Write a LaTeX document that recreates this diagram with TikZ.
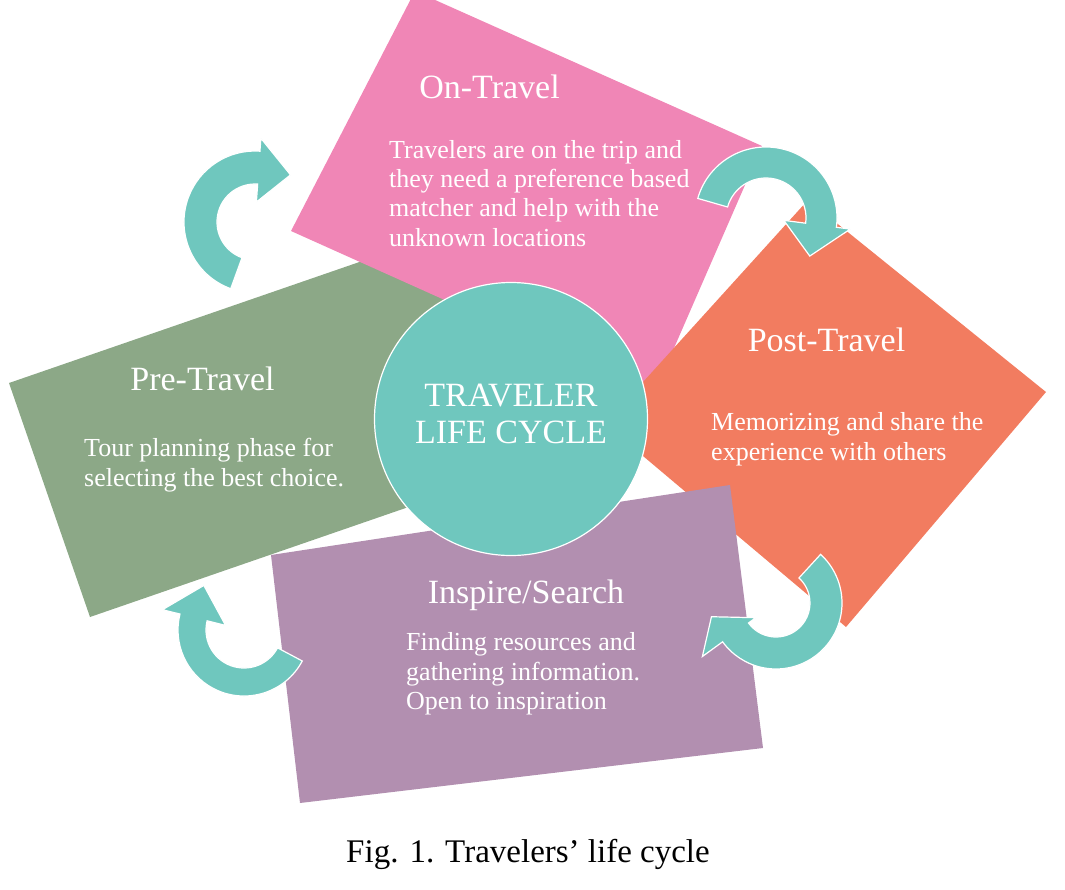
\documentclass[tikz,border=0pt]{standalone}
\usepackage{xcolor}
\usepackage{fontspec}
\setmainfont{Liberation Serif}
\usepackage{tikz}
\usetikzlibrary{positioning, calc}
\definecolor{ontravel}{HTML}{F086B6}
\definecolor{posttravel}{HTML}{F27C60}
\definecolor{pretravel}{HTML}{8CA887}
\definecolor{inspire}{HTML}{B28FB0}
\definecolor{hubteal}{HTML}{6FC7BE}

% centre, tail angle, head angle, tip angle, tip radius, inner r, outer r, outer barb, inner barb
\newcommand{\cyclearrow}[9]{%
  \filldraw[fill=hubteal, draw=white, line width=1.2pt]
    ($(#1)+(#2:#7)$) arc[start angle=#2, end angle=#3, radius=#7]
    -- ($(#1)+(#3:#8)$) -- ($(#1)+(#4:#5)$) -- ($(#1)+(#3:#9)$)
    -- ($(#1)+(#3:#6)$) arc[start angle=#3, end angle=#2, radius=#6] -- cycle;}

\begin{document}
\begin{tikzpicture}[x=1pt, y=-1pt,
    phasetitle/.style={text=white, font=\fontsize{34}{40}\selectfont, inner sep=0pt, anchor=base},
    phasetext/.style={text=white, font=\fontsize{26}{29.3}\selectfont, align=left, inner sep=0pt, anchor=base west}]
    \useasboundingbox (0,0) rectangle (1065,889);
    \clip (0,0) rectangle (1065,889);
    \fill[pretravel] (9,383) -- (455,229) -- (536,463) -- (90,617) -- cycle;
    \fill[ontravel] (415,-9) -- (762,146) -- (654,394) -- (291,231) -- cycle;
    \fill[posttravel] (808,200) -- (1046,392) -- (846,627) -- (605,424) -- cycle;
    \fill[inspire] (271,555) -- (730,485) -- (763,748) -- (300,803) -- cycle;
    \node (hub) [circle, fill=hubteal, draw=white, line width=1.2pt, minimum size=273pt, inner sep=0pt] at (511,419) {};
    \node (hubtext) [align=center, text=white, font=\fontsize{34}{37.5}\selectfont, inner sep=0pt, anchor=base]
          at (511,443.5) {TRAVELER\\LIFE CYCLE};
    \cyclearrow{255,222}{-250}{-86}{-53}{59}{38}{71}{84}{20}
    \cyclearrow{766,218}{-164}{7.5}{41}{58}{40}{71}{85}{18}
    \cyclearrow{776,603}{-47.5}{144}{168}{66}{34}{66}{91}{25}
    \cyclearrow{244,630}{28}{194}{228}{60}{38}{66}{84}{19}
    \node (ontitle) [phasetitle] at (489.5,98) {On-Travel};
    \node (ontext) [phasetext] at (389,246) {Travelers are on the trip and\\they need a preference based\\matcher and help with the\\unknown locations};
    \node (pretitle) [phasetitle] at (202.5,390) {Pre-Travel};
    \node (pretext) [phasetext] at (84,486) {Tour planning phase for\\selecting the best choice.};
    \node (posttitle) [phasetitle] at (826.5,351) {Post-Travel};
    \node (posttext) [phasetext] at (711,460) {Memorizing and share the\\experience with others};
    \node (inspiretitle) [phasetitle] at (526,603) {Inspire/Search};
    \node (inspiretext) [phasetext] at (406,709.5) {Finding resources and\\gathering information.\\Open to inspiration};
    \node (caption) [font=\fontsize{33}{40}\selectfont, inner sep=0pt, anchor=base] at (528,862) {Fig. 1. Travelers’ life cycle};
\end{tikzpicture}
\end{document}
